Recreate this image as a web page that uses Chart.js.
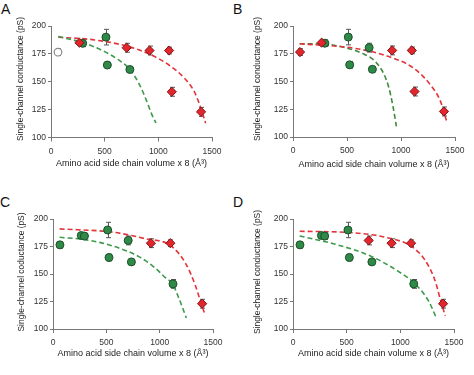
<!DOCTYPE html>
<html>
<head>
<meta charset="utf-8">
<script src="https://cdn.jsdelivr.net/npm/chart.js@4.4.0/dist/chart.umd.min.js"></script>
<style>
  body { margin: 0; background: #fff; width: 474px; height: 375px; position: relative; overflow: hidden;
         font-family: "Liberation Sans", Arial, sans-serif; }
  .panel { position: absolute; }
  .tag { position: absolute; font-size: 14px; color: #111; line-height: 1; }
</style>
</head>
<body>
<div class="tag" style="left:1px;top:2px">A</div>
<div class="tag" style="left:233px;top:2px">B</div>
<div class="tag" style="left:0px;top:195px">C</div>
<div class="tag" style="left:233px;top:195px">D</div>

<div class="panel" style="left:0;top:0;width:234px;height:185px"><canvas id="chartA"></canvas></div>
<div class="panel" style="left:234px;top:0;width:240px;height:185px"><canvas id="chartB"></canvas></div>
<div class="panel" style="left:0;top:185px;width:234px;height:190px"><canvas id="chartC"></canvas></div>
<div class="panel" style="left:234px;top:185px;width:240px;height:190px"><canvas id="chartD"></canvas></div>

<script>
// measured points (same in every panel, only the grouping changes)
const volume = [65, 265, 295, 512, 525, 705, 735, 918, 1100, 1125, 1398];
const conductance = [176.5, 185, 184.5, 190, 165, 180.5, 161, 178, 178, 141, 123];
const errorBars = [3, 2, 3, 7, 3, 4, 2, 4, 3, 4, 4];

const groupsA = ['open', 'red', 'green', 'green', 'green', 'red', 'green', 'red', 'red', 'red', 'red'];
const groupsB = ['red', 'red', 'green', 'green', 'green', 'green', 'green', 'red', 'red', 'red', 'red'];
const groupsC = ['green', 'green', 'green', 'green', 'green', 'green', 'green', 'red', 'red', 'green', 'red'];
const groupsD = ['green', 'green', 'green', 'green', 'green', 'red', 'green', 'red', 'red', 'green', 'red'];

// dashed fit curves
const fitGreenAx = [68, 299, 500, 623, 735, 824, 886, 938, 978];
const fitGreenAy = [190.5, 185, 177, 170, 161, 147.5, 134, 121, 113];
const fitRedAx = [68, 407, 704, 917, 1099, 1241, 1333, 1395, 1441];
const fitRedAy = [190, 187.5, 182, 174.8, 165, 153.4, 141.5, 126.7, 112.8];

const fitGreenBx = [62, 293, 500, 654, 762, 840, 886, 926, 957];
const fitGreenBy = [184, 183.7, 180, 174.8, 168, 157, 145, 127.5, 109.6];
const fitRedBx = [62, 562, 870, 1117, 1272, 1364, 1426];
const fitRedBy = [184, 180, 173, 162, 147, 132.5, 113];

const fitGreenCx = [62, 315, 562, 809, 963, 1050, 1120, 1180, 1250];
const fitGreenCy = [183.4, 181, 175.4, 165.6, 155, 147, 141, 128, 110];
const fitRedCx = [62, 562, 870, 1100, 1241, 1333, 1390, 1425];
const fitRedCy = [191, 188, 182, 176, 160, 140, 123, 113];

const fitGreenDx = [62, 415, 730, 981, 1138, 1264, 1335];
const fitGreenDy = [184.6, 176.5, 166, 152.4, 141, 125.3, 110.2];
const fitRedDx = [62, 569, 881, 1100, 1225, 1319, 1381, 1419];
const fitRedDy = [188.9, 187.4, 183, 175.3, 163.3, 145.2, 124.1, 112];

const yTicks = [100, 125, 150, 175, 200];
const xTicks = [0, 500, 1000, 1500];

const RED = '#e3262d';
const GREEN = '#2f8a48';

const markerStyle = {
    open: { pointStyle: 'circle', pointRadius: 3.8, backgroundColor: '#ffffff', borderColor: '#8a8a8a', borderWidth: 1.2 },
    red: { pointStyle: 'rectRot', pointRadius: 4.6, backgroundColor: RED, borderColor: '#7a1515', borderWidth: 1 },
    green: { pointStyle: 'circle', pointRadius: 4, backgroundColor: GREEN, borderColor: '#1c4f2b', borderWidth: 1 }
};

// error bars under the markers
const errorBarPlugin = {
    id: 'errorBars',
    beforeDatasetsDraw(chart) {
        const { ctx, scales: { x, y } } = chart;
        ctx.save();
        ctx.strokeStyle = '#555';
        ctx.lineWidth = 1;
        chart.data.datasets.forEach(ds => {
            if (ds.showLine) return;
            ds.data.forEach(p => {
                const px = Math.round(x.getPixelForValue(p.x)) + 0.5;
                const top = y.getPixelForValue(p.y + p.e);
                const bot = y.getPixelForValue(p.y - p.e);
                ctx.beginPath();
                ctx.moveTo(px, top); ctx.lineTo(px, bot);
                ctx.moveTo(px - 2.5, top); ctx.lineTo(px + 2.5, top);
                ctx.moveTo(px - 2.5, bot); ctx.lineTo(px + 2.5, bot);
                ctx.stroke();
            });
        });
        ctx.restore();
    }
};

// rotated y title, squeezed to the length seen in the figure
const sideTitlePlugin = {
    id: 'sideTitle',
    afterDraw(chart, args, opts) {
        const ctx = chart.ctx;
        ctx.save();
        ctx.font = '9px "Liberation Sans", Arial, sans-serif';
        ctx.fillStyle = '#222';
        ctx.textAlign = 'center';
        ctx.textBaseline = 'middle';
        ctx.translate(opts.x, opts.y);
        ctx.rotate(-Math.PI / 2);
        const w = ctx.measureText(opts.text).width;
        ctx.scale(opts.length / w, 1);
        ctx.fillText(opts.text, 0, 0);
        ctx.restore();
    }
};

function makePanel(id, p) {
    const datasets = [];
    ['open', 'red', 'green'].forEach(kind => {
        const pts = [];
        volume.forEach((v, i) => {
            if (p.groups[i] === kind) pts.push({ x: v, y: conductance[i], e: errorBars[i] });
        });
        if (pts.length) datasets.push(Object.assign({ data: pts, order: 0 }, markerStyle[kind]));
    });
    p.fits.forEach(f => {
        datasets.push({
            data: f.x.map((x, i) => ({ x: x, y: f.y[i] })),
            showLine: true,
            pointRadius: 0,
            borderColor: f.color,
            borderWidth: 1.6,
            borderDash: [5, 3],
            cubicInterpolationMode: 'monotone',
            fill: false,
            order: 1
        });
    });

    new Chart(document.getElementById(id), {
        type: 'scatter',
        data: { datasets: datasets },
        plugins: [errorBarPlugin, sideTitlePlugin],
        options: {
            responsive: true,
            maintainAspectRatio: false,
            animation: false,
            layout: { padding: { top: p.top, right: p.right, left: 0, bottom: 0 } },
            plugins: {
                legend: { display: false },
                tooltip: { enabled: false },
                sideTitle: p.yTitle
            },
            scales: {
                x: {
                    type: 'linear',
                    min: 0, max: 1500,
                    afterBuildTicks: s => { s.ticks = xTicks.map(v => ({ value: v })); },
                    afterFit: s => { s.height = p.xHeight; },
                    grid: { display: true, drawOnChartArea: false, drawTicks: true, tickLength: 4, color: '#777' },
                    border: { display: true, color: '#777', width: 1 },
                    ticks: {
                        padding: 5, color: '#333', maxRotation: 0,
                        font: { size: 8.5, family: '"Liberation Sans", Arial, sans-serif' },
                        callback: v => String(v)
                    },
                    title: {
                        display: true,
                        text: 'Amino acid side chain volume x 8 (Å³)',
                        color: '#222',
                        font: { size: 9, family: '"Liberation Sans", Arial, sans-serif' },
                        padding: { top: 0, bottom: p.xTitlePad }
                    }
                },
                y: {
                    type: 'linear',
                    min: 100, max: 200,
                    afterBuildTicks: s => { s.ticks = yTicks.map(v => ({ value: v })); },
                    afterFit: s => { s.width = p.yWidth; },
                    grid: { display: true, drawOnChartArea: false, drawTicks: true, tickLength: 3, color: '#777' },
                    border: { display: true, color: '#777', width: 1 },
                    ticks: {
                        padding: 2, color: '#333',
                        font: { size: 8.5, family: '"Liberation Sans", Arial, sans-serif' },
                        callback: v => String(v)
                    }
                }
            }
        }
    });
}

makePanel('chartA', {
    groups: groupsA, top: 26, right: 22, yWidth: 51, xHeight: 47.5, xTitlePad: 16.5,
    yTitle: { text: 'Single-channel conductance (pS)', x: 21, y: 79, length: 124 },
    fits: [{ x: fitGreenAx, y: fitGreenAy, color: '#3d9a4c' }, { x: fitRedAx, y: fitRedAy, color: '#e2343a' }]
});
makePanel('chartB', {
    groups: groupsB, top: 26, right: 19, yWidth: 59, xHeight: 48, xTitlePad: 15.5,
    yTitle: { text: 'Single-channel conductance (pS)', x: 23.5, y: 79, length: 124 },
    fits: [{ x: fitRedBx, y: fitRedBy, color: '#e2343a' }, { x: fitGreenBx, y: fitGreenBy, color: '#3f8a3c' }]
});
makePanel('chartC', {
    groups: groupsC, top: 34, right: 21, yWidth: 53, xHeight: 46, xTitlePad: 16,
    yTitle: { text: 'Single-channel coductance (pS)', x: 21.5, y: 87, length: 119 },
    fits: [{ x: fitGreenCx, y: fitGreenCy, color: '#3d9a4c' }, { x: fitRedCx, y: fitRedCy, color: '#e2343a' }]
});
makePanel('chartD', {
    groups: groupsD, top: 34, right: 20, yWidth: 59, xHeight: 46, xTitlePad: 16,
    yTitle: { text: 'Single-channel conductance (pS)', x: 24, y: 87, length: 124 },
    fits: [{ x: fitGreenDx, y: fitGreenDy, color: '#3d9a4c' }, { x: fitRedDx, y: fitRedDy, color: '#e2343a' }]
});
</script>
</body>
</html>
